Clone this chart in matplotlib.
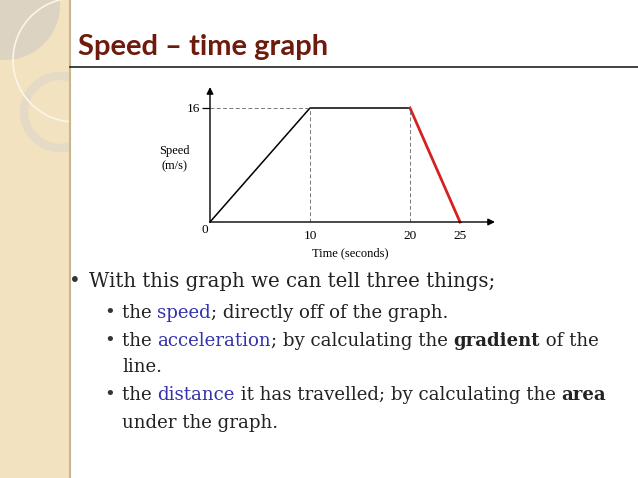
import matplotlib.pyplot as plt
from matplotlib.patches import Circle, Rectangle

# speed-time data
TIMES = [0, 10, 20, 25]
SPEEDS = [0, 16, 16, 0]
X_TICKS = [10, 20, 25]
Y_TICKS = [16]

TITLE = "Speed \u2013 time graph"
BULLETS = [
    (0, [("With this graph we can tell three things;", "k", "normal")]),
    (1, [("the ", "k", "normal"), ("speed", "#3333aa", "normal"),
         ("; directly off of the graph.", "k", "normal")]),
    (1, [("the ", "k", "normal"), ("acceleration", "#3333aa", "normal"),
         ("; by calculating the ", "k", "normal"), ("gradient", "k", "bold"),
         (" of the", "k", "normal")]),
    (None, [("line.", "k", "normal")]),
    (1, [("the ", "k", "normal"), ("distance", "#3333aa", "normal"),
         (" it has travelled; by calculating the ", "k", "normal"),
         ("area", "k", "bold")]),
    (None, [("under the graph.", "k", "normal")]),
]

W, H = 638, 478
fig = plt.figure(figsize=(W / 100, H / 100), dpi=100)
fig.patch.set_facecolor("white")

# --- background / slide decoration (pixel coords) ---------------------------
bg = fig.add_axes([0, 0, 1, 1])
bg.set_xlim(0, W)
bg.set_ylim(H, 0)
bg.axis("off")

bg.add_patch(Rectangle((0, 0), 70, H, facecolor="#f2e2bf", edgecolor="none"))
bg.add_patch(Circle((5, 5), 55, facecolor="#dcd3c2", edgecolor="none"))
bg.add_patch(Circle((60, 112), 36, facecolor="none", edgecolor="#e4dac6", lw=6))
bg.add_patch(Circle((75, 60), 62, facecolor="none", edgecolor="#fbf6ea", lw=1.2))
# white slide area covers the decorations
bg.add_patch(Rectangle((70, 0), W - 70, H, facecolor="white", edgecolor="none",
                       zorder=3))
bg.plot([70, 70], [0, H], color="#c9b58e", lw=1.5, zorder=4)

bg.text(78, 55, TITLE, fontsize=21, fontweight="bold", family="Lato",
        color="#6e1a0c", va="baseline", zorder=5)
bg.plot([70, W], [67, 67], color="#222222", lw=1.2, zorder=5)

# bullet text
renderer = fig.canvas.get_renderer()
baselines = [287, 318, 346, 372, 400, 428]
text_x = {0: 89, 1: 122, None: 122}
bullet_x = {0: 69, 1: 104}
sizes = {0: 14.2, 1: 13.1, None: 13.1}
for (level, runs), yb in zip(BULLETS, baselines):
    fs = sizes[level]
    if level is not None:
        bg.text(bullet_x[level], yb - 1, "\u2022", fontsize=fs,
                family="DejaVu Sans", color="#333333", va="baseline", zorder=5)
    x = text_x[level]
    for txt, col, wt in runs:
        t = bg.text(x, yb, txt, fontsize=fs, family="DejaVu Serif",
                    color=col if col != "k" else "#222222", fontweight=wt,
                    va="baseline", zorder=5)
        x += t.get_window_extent(renderer).width

# --- chart ------------------------------------------------------------------
ox, oy = 210, 222
x_end, y_end = 495, 87
ax = fig.add_axes([ox / W, 1 - oy / H, (x_end - ox) / W, (oy - y_end) / H])
ax.set_xlim(0, (x_end - ox) / 10)
ax.set_ylim(0, (oy - y_end) / 7.125)
ax.patch.set_alpha(0)
for s in ax.spines.values():
    s.set_visible(False)

serif = "Liberation Serif"
ax.plot(TIMES[:3], SPEEDS[:3], color="black", lw=1.1, clip_on=False)
ax.plot(TIMES[2:], SPEEDS[2:], color="#d42222", lw=2.0, clip_on=False)

dash = dict(color="#777777", lw=0.7, ls=(0, (4, 2.5)))
for t in X_TICKS[:2]:
    ax.plot([t, t], [0, SPEEDS[TIMES.index(t)]], **dash)
ax.plot([0, TIMES[1]], [SPEEDS[1], SPEEDS[1]], **dash)

arrow = dict(arrowstyle="-|>", color="black", lw=1.0, mutation_scale=10,
             shrinkA=0, shrinkB=0)
ax.annotate("", xy=(ax.get_xlim()[1], 0), xytext=(0, 0), arrowprops=arrow,
            annotation_clip=False)
ax.annotate("", xy=(0, ax.get_ylim()[1]), xytext=(0, 0), arrowprops=arrow,
            annotation_clip=False)

ax.set_xticks(X_TICKS)
ax.set_yticks(Y_TICKS)
ax.tick_params(axis="x", length=0, pad=6, labelsize=9.5)
ax.tick_params(axis="y", length=6, width=0.9, pad=1, labelsize=9.5)
for lab in ax.get_xticklabels() + ax.get_yticklabels():
    lab.set_family(serif)
ax.text(-0.2, -0.3, "0", ha="right", va="top", fontsize=9.5, family=serif)
ax.set_xlabel("Time (seconds)", fontsize=9, family=serif)
ax.xaxis.set_label_coords(14 / ax.get_xlim()[1], -0.19)
ax.text(-3.6, 8.9, "Speed\n(m/s)", ha="center", va="center", fontsize=9,
        family=serif, linespacing=1.45)

fig.savefig("out.png", dpi=100)
